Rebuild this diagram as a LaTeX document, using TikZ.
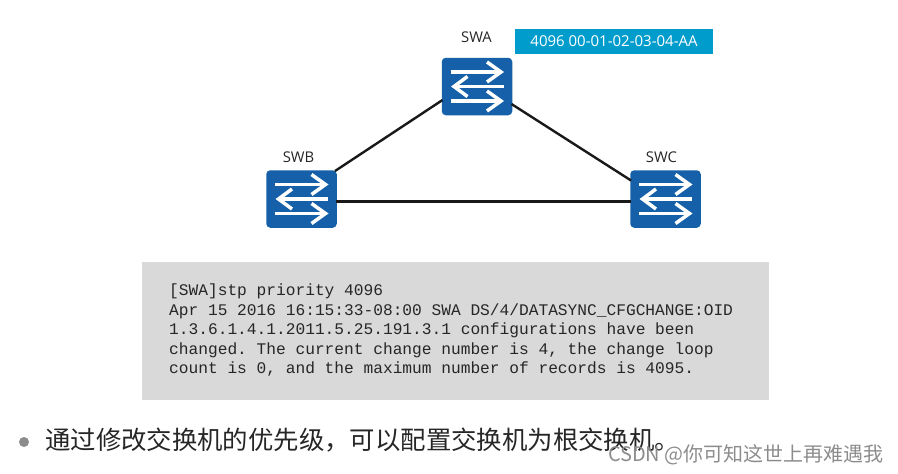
\documentclass[tikz,border=0pt]{standalone}
\usepackage{fontspec}
\setmainfont{Open Sans}
\setmonofont{Liberation Mono}
\newfontfamily\cjk{Noto Sans CJK SC}
\definecolor{swblue}{HTML}{1560A8}
\definecolor{tagblue}{HTML}{009CCC}
\definecolor{codegray}{HTML}{D9D9D9}
\tikzset{
  switchbox/.style={draw=none,fill=swblue,rounded corners=4pt,minimum width=70.5pt,minimum height=57.5pt,inner sep=0pt},
  arrowline/.style={draw=white,line width=3.5pt},
  swname/.style={font=\fontsize{14.8}{16}\selectfont,text=black!85,inner sep=0pt},
  link/.style={draw=black!90,line width=2.4pt},
  taglabel/.style={fill=tagblue,text=white,font=\fontsize{15}{16}\selectfont,minimum width=198pt,minimum height=25pt,inner sep=0pt},
  codebox/.style={fill=codegray,minimum width=627pt,minimum height=138pt,inner sep=0pt},
  codetext/.style={font=\ttfamily\fontsize{16.2}{19.5}\selectfont,text=black!85,align=left,inner sep=0pt},
  bodytext/.style={font=\cjk\fontsize{25.4}{28}\selectfont,text=black!85,inner sep=0pt},
  marktext/.style={font=\cjk\fontsize{20}{24}\selectfont,text=black!45,inner sep=0pt},
  bulletdot/.style={circle,fill=black!45,minimum size=10pt,inner sep=0pt},
}
\newcommand{\swarrows}[1]{%
  \draw[arrowline] ($(#1)+(-26.5,-14.5)$) -- ($(#1)+(24,-14.5)$);
  \draw[arrowline,line join=miter] ($(#1)+(10,-24.5)$) -- ($(#1)+(24,-14.5)$) -- ($(#1)+(10,-4.5)$);
  \draw[arrowline] ($(#1)+(26.5,0)$) -- ($(#1)+(-23,0)$);
  \draw[arrowline,line join=miter] ($(#1)+(-9.5,-10)$) -- ($(#1)+(-23,0)$) -- ($(#1)+(-9.5,10)$);
  \draw[arrowline] ($(#1)+(-26.5,14.5)$) -- ($(#1)+(24,14.5)$);
  \draw[arrowline,line join=miter] ($(#1)+(10,4.5)$) -- ($(#1)+(24,14.5)$) -- ($(#1)+(10,24.5)$);
}
\usetikzlibrary{calc}
\begin{document}
\begin{tikzpicture}[x=1pt,y=-1pt]
\useasboundingbox (0,0) rectangle (898,474);
\node[switchbox] (swa) at (477,86.5) {};
\node[switchbox] (swb) at (301.5,199) {};
\node[switchbox] (swc) at (665.5,199) {};
\draw[link] ($(swa.west)+(1,13.5)$) -- ($(swb.north east)+(-2,1)$);
\draw[link] ($(swa.east)+(-1,17.5)$) -- ($(swc.west)+(1,-18.5)$);
\draw[link] ($(swb.east)+(-1,2.5)$) -- ($(swc.west)+(1,2.5)$);
\swarrows{swa}
\swarrows{swb}
\swarrows{swc}
\node[swname] (la) at (476.5,37) {SWA};
\node[swname] (lb) at (298.5,157) {SWB};
\node[swname] (lc) at (661.5,157) {SWC};
\node[taglabel] (tag) at (614,41.5) {4096 00-01-02-03-04-AA};
\node[codebox] (code) at (455.5,331) {};
\node[codetext,anchor=north west] (codetxt) at (169,284) {[SWA]stp priority 4096\\
Apr 15 2016 16:15:33-08:00 SWA DS/4/DATASYNC\_CFGCHANGE:OID\\
1.3.6.1.4.1.2011.5.25.191.3.1 configurations have been\\
changed. The current change number is 4, the change loop\\
count is 0, and the maximum number of records is 4095.};
\node[bulletdot] (dot) at (24,442) {};
\node[bodytext,anchor=west] (body) at (45,440) {通过修改交换机的优先级^^^^ff0c可以配置交换机为根交换机。};
\node[marktext,anchor=east] (mark) at (884,455) {CSDN @你可知这世上再难遇我};
\end{tikzpicture}
\end{document}
